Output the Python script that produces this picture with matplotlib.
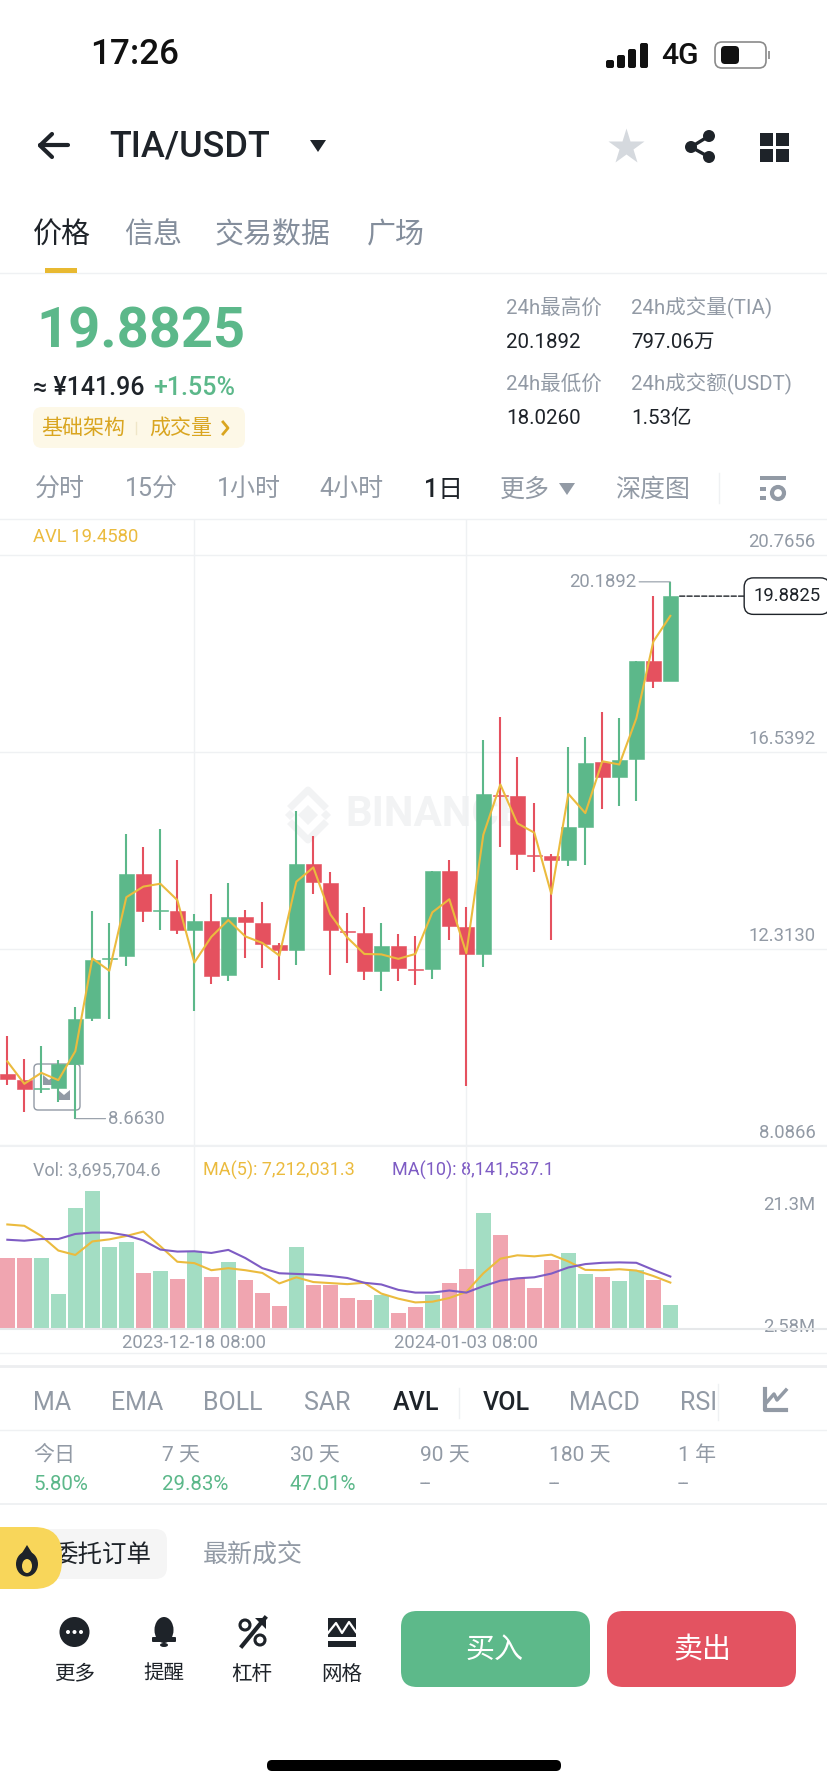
import matplotlib
matplotlib.use('Agg')
import matplotlib.pyplot as plt
from matplotlib.patches import FancyBboxPatch, Polygon, Circle, Rectangle, Ellipse
from matplotlib.transforms import ScaledTranslation

W, H = 828, 1792
FONTS = ['Roboto', 'Noto Sans CJK SC', 'DejaVu Sans']
plt.rcParams['font.family'] = FONTS

GREEN = '#5CB88A'
RED = '#E5515F'
DARK = '#1E2329'
GRAY = '#929AA5'
GOLD = '#EBBB3E'
PURPLE = '#7E5CC4'
LINE = '#EFF1F3'

# daily candles, price
opens = [9.621, 9.498, 9.297, 9.323, 9.832, 10.814, 12.085, 12.146, 13.918, 13.111,
         13.111, 12.716, 12.909, 11.743, 12.997, 12.865, 12.392, 12.287, 14.137, 13.725,
         12.699, 12.655, 11.839, 12.366, 11.883, 11.883, 13.988, 12.786, 12.199, 15.618,
         15.592, 14.321, 14.312, 14.224, 14.926, 16.311, 15.996, 16.390, 18.486, 18.065]
closes = [9.516, 9.297, 9.323, 9.832, 10.805, 12.067, 12.111, 13.918, 13.111, 13.137,
          12.716, 12.900, 11.734, 12.988, 12.883, 12.418, 12.287, 14.137, 13.742, 12.716,
          12.672, 11.839, 12.374, 11.901, 11.857, 13.988, 12.795, 12.199, 15.627, 15.592,
          14.338, 14.295, 14.224, 14.926, 16.294, 15.996, 16.372, 18.494, 18.065, 19.8825]
highs = [10.445, 9.954, 10.217, 9.919, 11.059, 13.120, 12.874, 14.777, 14.496, 14.891,
         14.216, 13.058, 13.497, 13.725, 13.137, 13.321, 12.427, 15.268, 14.733, 13.953,
         13.076, 13.199, 12.857, 12.637, 12.594, 13.988, 14.207, 13.216, 16.802, 17.293,
         16.434, 15.443, 14.347, 16.644, 16.864, 17.390, 17.258, 18.494, 19.889, 20.1892]
lows = [9.393, 8.815, 9.218, 9.016, 8.663, 10.752, 10.805, 11.936, 12.892, 12.708,
        12.620, 10.971, 11.559, 11.629, 12.103, 11.901, 11.647, 11.971, 13.497, 11.752,
        12.006, 11.647, 11.410, 11.611, 11.533, 11.664, 12.497, 9.367, 11.910, 14.505,
        14.005, 13.961, 12.497, 14.093, 14.110, 15.312, 15.382, 15.478, 17.907, 18.065]
avl = [9.893, 9.411, 9.647, 9.490, 10.112, 12.103, 11.839, 13.418, 13.646, 13.707,
       13.356, 12.015, 12.567, 12.927, 12.576, 12.436, 12.164, 13.751, 14.058, 13.049,
       12.550, 12.199, 12.190, 12.094, 12.199, 13.093, 13.374, 12.217, 14.759, 15.838,
       15.005, 14.803, 13.488, 15.636, 15.224, 16.337, 16.267, 17.258, 18.907, 19.458]

# volume in millions
volumes = [11.03, 11.03, 10.93, 5.41, 18.74, 21.3, 12.75, 13.38, 8.74, 9.06,
           7.81, 11.97, 8.12, 10.31, 7.60, 5.62, 3.64, 12.75, 6.82, 6.82,
           4.84, 4.58, 5.36, 2.58, 3.49, 5.36, 7.18, 9.26, 17.96, 14.52,
           7.86, 6.45, 10.62, 11.76, 8.59, 8.07, 7.44, 9.21, 7.65, 3.6957]
ma5 = [16.14, 15.93, 14.37, 12.13, 11.45, 13.53, 13.85, 14.37, 15.04, 12.80,
       10.41, 10.20, 9.11, 9.42, 9.11, 8.69, 7.08, 8.02, 7.29, 7.13,
       6.97, 7.18, 5.52, 4.74, 4.16, 4.27, 4.84, 5.78, 8.64, 10.88,
       11.40, 11.24, 11.50, 10.46, 9.16, 9.11, 9.26, 9.06, 8.22, 7.21]
ma10 = [13.79, 13.64, 13.90, 13.90, 14.68, 14.89, 14.89, 14.47, 13.69, 12.28,
        11.97, 12.02, 11.76, 12.23, 10.98, 9.42, 8.64, 8.54, 8.43, 8.22,
        7.91, 7.18, 6.92, 6.09, 5.67, 5.67, 5.99, 5.67, 6.66, 7.50,
        7.86, 8.02, 8.59, 9.53, 10.05, 10.25, 10.31, 10.25, 9.16, 8.14]

price_ticks = [20.7656, 16.5392, 12.3130, 8.0866]
price_labels = ['20.7656', '16.5392', '12.3130', '8.0866']
vol_ticks = [21.3, 2.58]
vol_labels = ['21.3M', '2.58M']
date_pos = [11, 27]
date_labels = ['2023-12-18 08:00', '2024-01-03 08:00']

intervals = ['分时', '15分', '1小时', '4小时', '1日', '更多', '深度图']
interval_x = [35, 125, 217, 319, 424, 500, 615]
indicators = ['MA', 'EMA', 'BOLL', 'SAR', 'AVL', 'VOL', 'MACD', 'RSI']
indicator_x = [33, 111, 203, 304, 393, 483, 569, 680]
periods = ['今日', '7 天', '30 天', '90 天', '180 天', '1 年']
period_vals = ['5.80%', '29.83%', '47.01%', '--', '--', '--']
period_x = [33, 162, 290, 420, 549, 678]


def rect_px(x0, y0, x1, y1):
    return [x0 / W, 1 - y1 / H, (x1 - x0) / W, (y1 - y0) / H]


fig = plt.figure(figsize=(W / 100, H / 100), dpi=100, facecolor='white')

# the whole screen in pixels, for the app around the chart
ui = fig.add_axes([0, 0, 1, 1], zorder=0)
ui.set_xlim(0, W)
ui.set_ylim(H, 0)
ui.axis('off')


def t(x, y, s, px=21, c=GRAY, w='normal', ha='left', z=5):
    ui.text(x, y, s, fontsize=px * 0.72, color=c, fontweight=w, ha=ha, va='center', zorder=z)


def box(x0, y0, x1, y1, r, c, z=2, **kw):
    ui.add_patch(FancyBboxPatch((x0 + r, y0 + r), x1 - x0 - 2 * r, y1 - y0 - 2 * r,
                                boxstyle=f'round,pad={r},rounding_size={r}',
                                fc=c, ec=kw.pop('ec', 'none'), lw=kw.pop('lw', 0), zorder=z, **kw))


def hline(y, lw=1.0, c=LINE):
    ui.plot([0, W], [y, y], color=c, lw=lw, zorder=1)


# status bar
t(90, 55, '17:26', 35, '#111111', 'medium')
for bx, btop in zip([606, 617, 628, 640], [60, 55, 49, 43]):
    box(bx, btop, bx + 8, 68, 2, '#111111')
t(661, 56, '4G', 30, '#111111', 'medium')
box(715, 42, 766, 68, 7, 'white', ec='#8A8A8A', lw=1.2)
box(721, 46, 739, 64, 4, '#111111', z=3)
ui.add_patch(Rectangle((768, 51), 2, 8, fc='#9A9A9A', zorder=2))

# header
ui.plot([68, 40], [145.5, 145.5], color=DARK, lw=3, solid_capstyle='round', zorder=3)
ui.plot([52, 40, 52], [134, 145.5, 157], color=DARK, lw=3, solid_capstyle='round', zorder=3)
t(109, 147, 'TIA/USDT', 36, DARK, 'medium')
ui.add_patch(Polygon([[310, 140], [326, 140], [318, 152]], fc=DARK, zorder=3))
ui.plot([626], [147], marker='*', ms=27, color='#D5D9DE', mec='none', zorder=3)
for sx, sy in [(709, 136), (691, 147), (709, 157)]:
    ui.add_patch(Circle((sx, sy), 6, fc=DARK, zorder=3))
ui.plot([709, 691, 709], [136, 147, 157], color=DARK, lw=2.4, zorder=3)
for gx, gy in [(760, 133), (776, 133), (760, 149), (776, 149)]:
    ui.add_patch(Rectangle((gx, gy), 13, 13, fc=DARK, zorder=3))

# tabs
t(33, 235, '价格', 29, DARK, 'medium')
t(124, 235, '信息', 29, '#848E9C', 'medium')
t(215, 235, '交易数据', 29, '#848E9C', 'medium')
t(367, 235, '广场', 29, '#848E9C', 'medium')
ui.add_patch(Rectangle((45, 268), 32, 5, fc='#E8B931', zorder=3))
hline(273.5)

# price block
t(36, 333, '19.8825', 56, GREEN, 'bold')
t(33, 388, '≈ ¥141.96', 25, DARK, 'medium')
t(153, 388, '+1.55%', 25, GREEN, 'medium')
box(33, 407, 245, 448, 9, '#FDF8E7')
t(41, 428, '基础架构', 21, '#D9A520')
ui.plot([136, 136], [422, 434], color='#EFE6C8', lw=1, zorder=3)
t(149, 428, '成交量', 21, '#D9A520')
ui.plot([223, 228, 223], [422, 428, 434], color='#D9A520', lw=2, zorder=3)

t(506, 308, '24h最高价', 20.5)
t(631, 308, '24h成交量(TIA)', 20.5)
t(506, 342, '20.1892', 20.5, DARK)
t(631, 342, '797.06万', 20.5, DARK)
t(506, 384, '24h最低价', 20.5)
t(631, 384, '24h成交额(USDT)', 20.5)
t(506, 418, '18.0260', 20.5, DARK)
t(631, 418, '1.53亿', 20.5, DARK)

# interval row
for lab, ix in zip(intervals, interval_x):
    t(ix, 490, lab, 25, DARK if lab == '1日' else GRAY, 'medium' if lab == '1日' else 'normal')
ui.add_patch(Polygon([[559, 483], [575, 483], [567, 495]], fc=GRAY, zorder=3))
ui.plot([719, 719], [473, 503], color=LINE, lw=1, zorder=1)
ui.add_patch(Rectangle((760, 476), 26, 4, fc=GRAY, zorder=3))
ui.add_patch(Rectangle((760, 487), 6, 4, fc=GRAY, zorder=3))
ui.add_patch(Rectangle((760, 496), 6, 4, fc=GRAY, zorder=3))
ui.add_patch(Circle((778, 493), 6, fc='white', ec=GRAY, lw=3, zorder=3))
hline(519.5)

# watermark
WM = '#F2F3F4'
for cx, cy, r in [(308, 815, 10), (290, 815, 5), (326, 815, 5)]:
    ui.add_patch(Polygon([[cx - r, cy], [cx, cy - r], [cx + r, cy], [cx, cy + r]], fc=WM, zorder=1))
ui.plot([292, 308, 324], [806, 790, 806], color=WM, lw=5, zorder=1)
ui.plot([292, 308, 324], [824, 840, 824], color=WM, lw=5, zorder=1)
ui.text(345, 815, 'BINANCE', fontsize=42 * 0.72, color=WM, fontweight='bold', va='center', zorder=1)

# candle axes: one candle is 17 pixels, the first one sits at x = 7.3
x_left = -7.33 / 17
x_right = (W - 7.33) / 17
idx = list(range(len(opens)))

ax = fig.add_axes(rect_px(0, 520, W, 1145.5), zorder=1)
ax.patch.set_visible(False)
ax.set_xlim(x_left, x_right)
ax.set_ylim(8.0866, 21.517)
for name, sp in ax.spines.items():
    sp.set_visible(name == 'bottom')
    sp.set_color(LINE)
ax.set_xticks(date_pos)
ax.set_xticklabels([])
ax.set_yticks(price_ticks)
ax.set_yticklabels(price_labels)
ax.yaxis.tick_right()
ax.tick_params(axis='x', length=0)
ax.tick_params(axis='y', length=0, pad=-9, labelsize=18.5 * 0.72, labelcolor=GRAY)
for lab in ax.get_yticklabels():
    lab.set_ha('right')
    lab.set_va('bottom')
    lab.set_transform(lab.get_transform() + ScaledTranslation(0, 4 / 100, fig.dpi_scale_trans))
ax.grid(True, color=LINE, lw=1)
ax.set_axisbelow(True)

colors = [GREEN if c >= o else RED for o, c in zip(opens, closes)]
ax.vlines(idx, lows, highs, colors=colors, lw=1.5, zorder=3)
ax.bar(idx, [abs(c - o) for o, c in zip(opens, closes)],
       bottom=[min(o, c) for o, c in zip(opens, closes)],
       width=0.88, color=colors, edgecolor=colors, lw=0.4, zorder=3)
ax.plot(idx, avl, color=GOLD, lw=1.5, zorder=4)

low_i = lows.index(min(lows))
high_i = highs.index(max(highs))
ax.annotate('8.6630', xy=(low_i, lows[low_i]), xytext=(33, 0), textcoords='offset pixels',
            fontsize=18.5 * 0.72, color=GRAY, va='center', ha='left',
            arrowprops=dict(arrowstyle='-', color=GRAY, lw=0.8, shrinkA=0, shrinkB=0))
ax.annotate('20.1892', xy=(high_i, highs[high_i]), xytext=(-34, 0), textcoords='offset pixels',
            fontsize=18.5 * 0.72, color=GRAY, va='center', ha='right',
            arrowprops=dict(arrowstyle='-', color=GRAY, lw=0.8, shrinkA=0, shrinkB=0))
ax.annotate('19.8825', xy=(39.45, closes[-1]), xytext=(109, 0), textcoords='offset pixels',
            fontsize=18.5 * 0.72, color=DARK, va='center', ha='center', zorder=6,
            bbox=dict(boxstyle='round,pad=0.5', fc='white', ec=DARK, lw=1),
            arrowprops=dict(arrowstyle='-', color=DARK, lw=1, ls='--', shrinkA=0, shrinkB=0))
ax.text(33, 537, 'AVL 19.4580', transform=ui.transData, fontsize=18.5 * 0.72, color=GOLD, va='center')

# small trade marks next to the low
box(34, 1064, 80, 1110, 4, 'none', z=5, ec=GRAY, lw=1)
for mx, my in [(49, 1080), (64, 1095)]:
    ui.add_patch(Polygon([[mx - 6, my - 5], [mx, my], [mx + 6, my - 5], [mx + 6, my + 5], [mx - 6, my + 5]],
                         fc=GRAY, zorder=6))

# volume axes
vx = fig.add_axes(rect_px(0, 1145.5, W, 1329.5), zorder=1)
vx.patch.set_visible(False)
vx.set_xlim(x_left, x_right)
vx.set_ylim(0, 28.27)
for name, sp in vx.spines.items():
    sp.set_visible(name == 'bottom')
    sp.set_color('#E6E8EA')
    sp.set_linewidth(1.5)
vx.set_xticks(date_pos)
vx.set_xticklabels(date_labels)
vx.set_yticks(vol_ticks)
vx.set_yticklabels(vol_labels)
vx.yaxis.tick_right()
vx.tick_params(axis='x', length=0, pad=3.5, labelsize=18.5 * 0.72, labelcolor=GRAY)
vx.tick_params(axis='y', length=0, pad=-9, labelsize=18.5 * 0.72, labelcolor=GRAY)
for lab in vx.get_yticklabels():
    lab.set_ha('right')
    lab.set_va('top')
    lab.set_transform(lab.get_transform() + ScaledTranslation(0, -5 / 100, fig.dpi_scale_trans))
vx.xaxis.grid(True, color=LINE, lw=1)
vx.set_axisbelow(True)
vol_colors = ['#A3DDC3' if c == GREEN else '#F0A5B0' for c in colors]
vx.bar(idx, volumes, width=0.9, color=vol_colors, zorder=2)
vx.plot(idx, ma5, color=GOLD, lw=1.5, zorder=3)
vx.plot(idx, ma10, color=PURPLE, lw=1.5, zorder=4)

t(33, 1170, 'Vol: 3,695,704.6', 18, GRAY)
t(203, 1170, 'MA(5): 7,212,031.3', 18, GOLD)
t(392, 1170, 'MA(10): 8,141,537.1', 18, PURPLE)

# indicator row
hline(1353)
hline(1366, 2.0, '#EDEEF0')
for lab, ix in zip(indicators, indicator_x):
    on = lab in ('AVL', 'VOL')
    t(ix, 1403, lab, 25, DARK if on else GRAY, 'medium' if on else 'normal')
ui.plot([459, 459], [1388, 1418], color=LINE, lw=1, zorder=6)
ui.plot([718, 718], [1384, 1420], color=LINE, lw=1, zorder=6)
ui.plot([765, 765, 786], [1389, 1410, 1410], color=GRAY, lw=3, zorder=3)
ui.plot([767, 774, 777, 786], [1402, 1394, 1400, 1390], color=GRAY, lw=2.5, zorder=3)
hline(1430)

for lab, val, px_ in zip(periods, period_vals, period_x):
    t(px_, 1455, lab, 21, GRAY)
    t(px_, 1484, val, 20.5, GREEN if val != '--' else GRAY)
hline(1504.5, 1.4)

# order tabs and the yellow badge
box(30, 1529, 167, 1579, 12, '#F5F5F5')
t(53, 1555, '委托订单', 24.5, DARK, 'medium')
t(203, 1555, '最新成交', 25, GRAY, 'medium')
box(-50, 1527, 62, 1589, 28, '#F8D65A', z=6)
ui.add_patch(Ellipse((27, 1564), 22, 25, fc=DARK, zorder=7))
ui.add_patch(Polygon([[27, 1545], [17, 1561], [37, 1561]], fc=DARK, zorder=7))
ui.add_patch(Ellipse((27, 1566), 10, 14, fc='#F8D65A', zorder=8))

# bottom toolbar
ui.add_patch(Circle((74.5, 1632), 15, fc=DARK, zorder=3))
for dx in [-6.5, 0, 6.5]:
    ui.add_patch(Circle((74.5 + dx, 1632), 2, fc='white', zorder=4))
ui.add_patch(Ellipse((164, 1630), 19, 26, fc=DARK, zorder=3))
ui.add_patch(FancyBboxPatch((153, 1638), 22, 3, boxstyle='round,pad=1', fc=DARK, ec='none', zorder=3))
ui.add_patch(Ellipse((164, 1645), 8, 4, fc=DARK, zorder=3))
ui.add_patch(Circle((245, 1625), 5, fc='white', ec=DARK, lw=2.2, zorder=3))
ui.add_patch(Circle((260, 1640), 5, fc='white', ec=DARK, lw=2.2, zorder=3))
ui.plot([242, 265], [1646, 1618], color=DARK, lw=3, zorder=3)
ui.add_patch(Polygon([[255, 1618], [266, 1618], [266, 1629]], fc=DARK, zorder=3))
ui.add_patch(Rectangle((328, 1618), 28, 19, fc=DARK, zorder=3))
ui.plot([328, 336, 342, 349, 356], [1633, 1623, 1633, 1622, 1632], color='white', lw=1.6, zorder=4)
ui.add_patch(Rectangle((328, 1637), 28, 3, fc='white', zorder=4))
ui.add_patch(Rectangle((328, 1641), 28, 6, fc=DARK, zorder=3))
for lab, lx in zip(['更多', '提醒', '杠杆', '网格'], [74.5, 164, 252, 342]):
    t(lx, 1674, lab, 20.5, DARK, ha='center')

box(401, 1611, 590, 1687, 16, '#5DB98A')
box(607, 1611, 796, 1687, 16, '#E35361')
t(495, 1650, '买入', 29, 'white', 'medium', ha='center')
t(702, 1650, '卖出', 29, 'white', 'medium', ha='center')
box(267, 1760, 561, 1771, 5, 'black')

fig.savefig('out.png', dpi=100)
